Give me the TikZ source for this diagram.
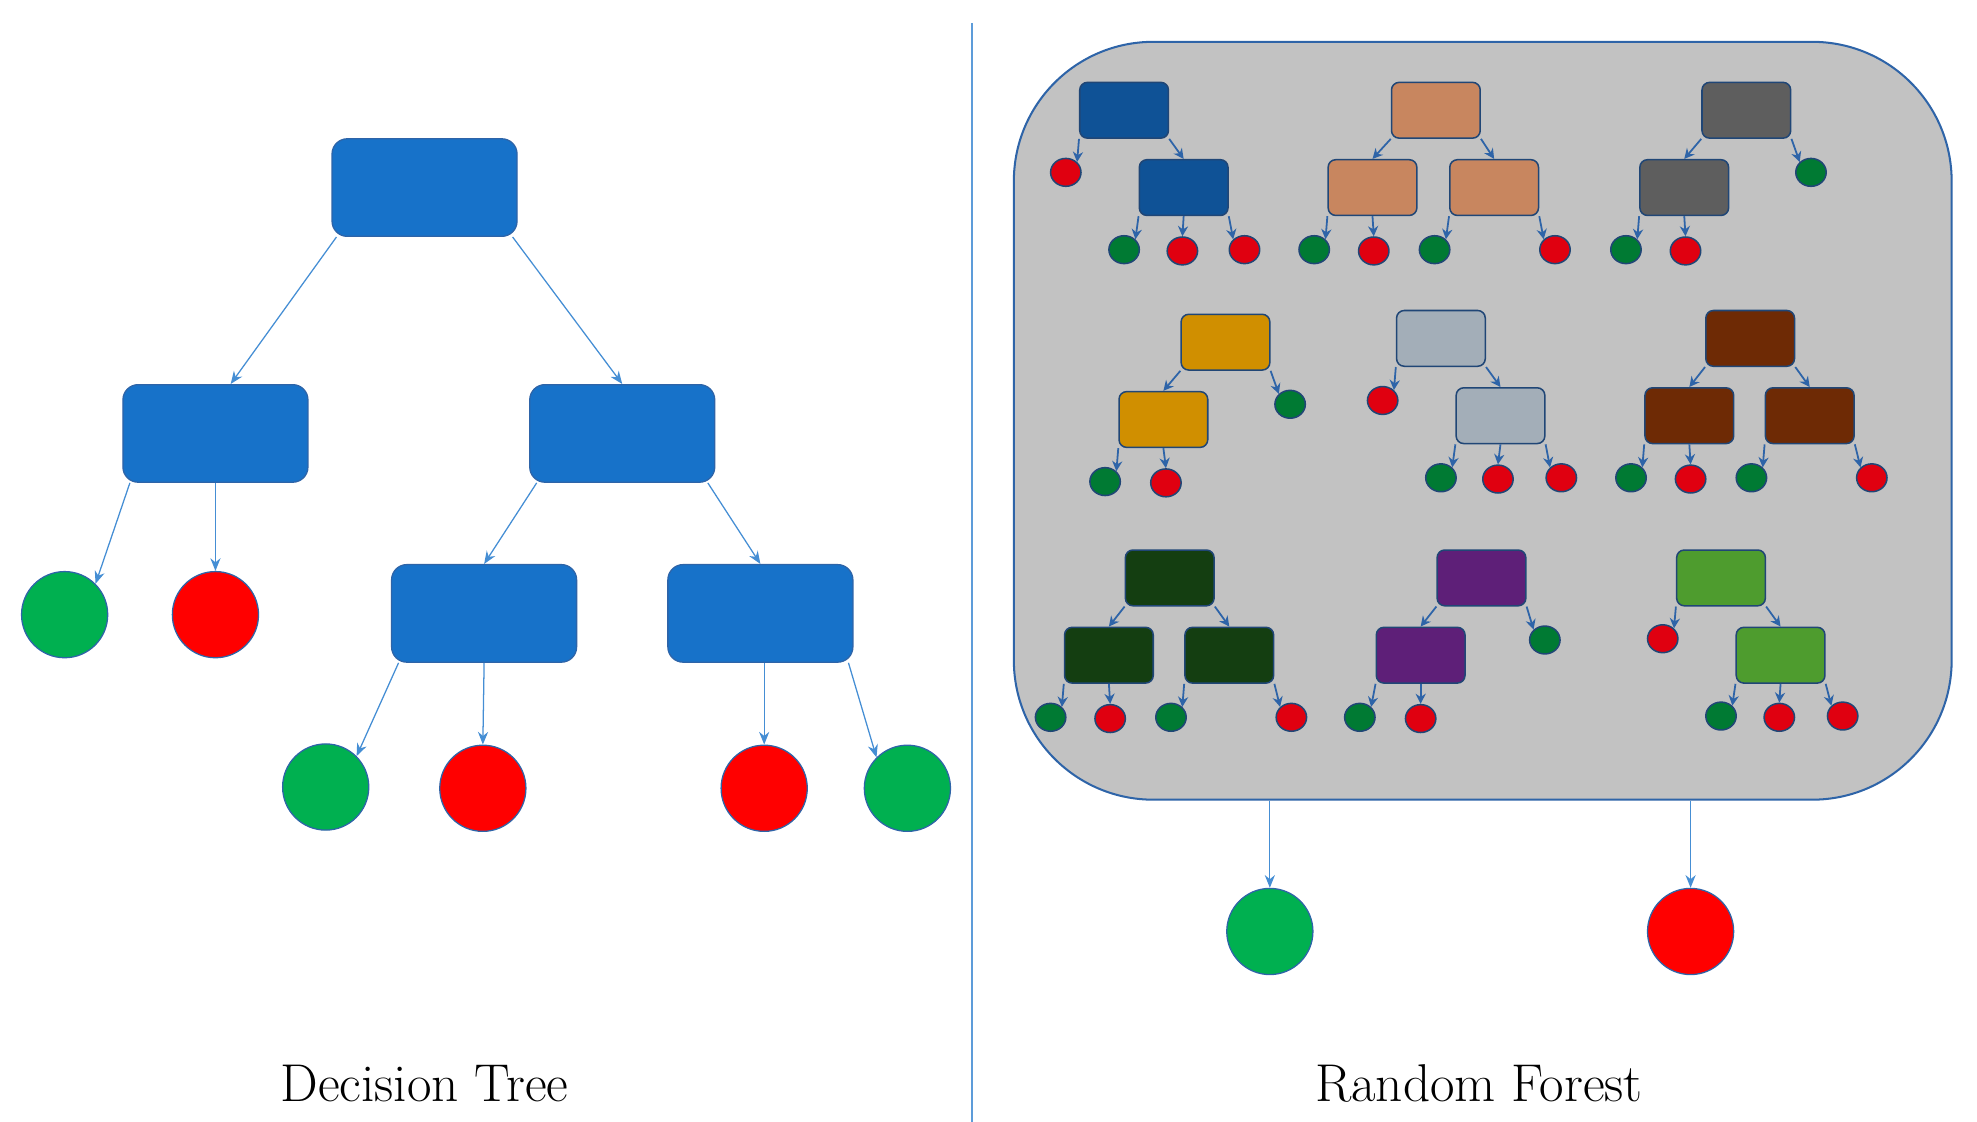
\documentclass[tikz,border=0pt]{standalone}
\usetikzlibrary{arrows.meta,shapes.geometric}
\definecolor{bb}{HTML}{1772C9}
\definecolor{bline}{HTML}{2E64A8}
\definecolor{lg}{HTML}{00B050}
\definecolor{lr}{HTML}{FF0000}
\definecolor{sg}{HTML}{007A33}
\definecolor{sr}{HTML}{E00010}
\definecolor{c1}{HTML}{0F5296}
\definecolor{c2}{HTML}{C8865F}
\definecolor{c3}{HTML}{5E5E5E}
\definecolor{c4}{HTML}{D08F00}
\definecolor{c5}{HTML}{A3AEB8}
\definecolor{c6}{HTML}{6E2A05}
\definecolor{c7}{HTML}{143E11}
\definecolor{c8}{HTML}{5E1F78}
\definecolor{c9}{HTML}{4E9C2E}
\begin{document}
\begin{tikzpicture}[x=0.5pt,y=-0.5pt,
 big/.style={draw=bline,fill=bb,rounded corners=6pt,minimum width=73pt,minimum height=38.5pt,inner sep=0pt,line width=0.5pt},
 bl/.style={circle,draw=bline,fill=#1,minimum size=34pt,inner sep=0pt,line width=0.5pt},
 ba/.style={draw=bb!80,line width=0.5pt,-{Stealth[length=5pt,width=4pt]}},
 sm/.style={draw=bline!70!black,fill=#1,rounded corners=3pt,minimum width=35pt,minimum height=22pt,inner sep=0pt,line width=0.6pt},
 sl/.style={ellipse,draw=bline!70!black,fill=#1,minimum width=12pt,minimum height=11pt,inner sep=0pt,line width=0.6pt},
 sa/.style={draw=bline,line width=0.7pt,-{Stealth[length=4pt,width=4pt]}},
 lab/.style={font=\fontsize{21}{25}\selectfont}]
\useasboundingbox (0,0) rectangle (1560,885);
% left decision tree
\node[big] (r) at (335,148) {};
\node[big] (a) at (170,342) {};
\node[big] (b) at (491,342) {};
\node[big] (c) at (382,484) {};
\node[big] (d) at (600,484) {};
\node[bl=lg] (g1) at (51,485) {};
\node[bl=lr] (r1) at (170,485) {};
\node[bl=lg] (g2) at (257,621) {};
\node[bl=lr] (r2) at (381,622) {};
\node[bl=lr] (r3) at (603,622) {};
\node[bl=lg] (g3) at (716,622) {};
\draw[ba] ([xshift=2]r.south west) -- ([xshift=6]a.north);
\draw[ba] ([xshift=-2]r.south east) -- (b.north);
\draw[ba] ([xshift=3]a.south west) -- (g1.north east);
\draw[ba] (a.south) -- (r1.north);
\draw[ba] ([xshift=3]b.south west) -- (c.north);
\draw[ba] ([xshift=-3]b.south east) -- (d.north);
\draw[ba] ([xshift=3]c.south west) -- (g2.north east);
\draw[ba] (c.south) -- (r2.north);
\draw[ba] (r3.north |- d.south) -- (r3.north);
\draw[ba] ([xshift=-2]d.south east) -- (g3.north west);
% divider
\coordinate (t1) at (767,18); \coordinate (t2) at (767,885);
\draw[bb!70,line width=0.6pt] (t1) -- (t2);
% forest box
\node[draw=bline,fill=black!24,rounded corners=55pt,line width=0.8pt,minimum width=370pt,minimum height=299pt,inner sep=0pt] (box) at (1170,332) {};
\node[bl=lg] (og) at (1002,735) {};
\node[bl=lr] (or) at (1334,735) {};
\draw[ba] (og.north |- box.south) -- (og.north);
\draw[ba] (or.north |- box.south) -- (or.north);
% tree 1
\node[sm=c1] (t1r) at (887,87) {};
\node[sl=sr] (t1a) at (841,136) {};
\node[sm=c1] (t1b) at (934,148) {};
\node[sl=sg] (t1c) at (887,197) {};
\node[sl=sr] (t1d) at (933,198) {};
\node[sl=sr] (t1e) at (982,197) {};
\draw[sa] (t1r.south west) -- (t1a.north east);
\draw[sa] (t1r.south east) -- (t1b.north);
\draw[sa] (t1b.south west) -- (t1c.north east);
\draw[sa] (t1b.south) -- (t1d.north);
\draw[sa] (t1b.south east) -- (t1e.north west);
% tree 2
\node[sm=c2] (t2r) at (1133,87) {};
\node[sm=c2] (t2a) at (1083,148) {};
\node[sm=c2] (t2b) at (1179,148) {};
\node[sl=sg] (t2c) at (1037,197) {};
\node[sl=sr] (t2d) at (1084,198) {};
\node[sl=sg] (t2e) at (1132,197) {};
\node[sl=sr] (t2f) at (1227,197) {};
\draw[sa] (t2r.south west) -- (t2a.north);
\draw[sa] (t2r.south east) -- (t2b.north);
\draw[sa] (t2a.south west) -- (t2c.north east);
\draw[sa] (t2a.south) -- (t2d.north);
\draw[sa] (t2b.south west) -- (t2e.north east);
\draw[sa] (t2b.south east) -- (t2f.north west);
% tree 3
\node[sm=c3] (t3r) at (1378,87) {};
\node[sm=c3] (t3a) at (1329,148) {};
\node[sl=sg] (t3b) at (1429,136) {};
\node[sl=sg] (t3c) at (1283,197) {};
\node[sl=sr] (t3d) at (1330,198) {};
\draw[sa] (t3r.south west) -- (t3a.north);
\draw[sa] (t3r.south east) -- (t3b.north west);
\draw[sa] (t3a.south west) -- (t3c.north east);
\draw[sa] (t3a.south) -- (t3d.north);
% tree 4
\node[sm=c4] (t4r) at (967,270) {};
\node[sm=c4] (t4a) at (918,331) {};
\node[sl=sg] (t4b) at (1018,319) {};
\node[sl=sg] (t4c) at (872,380) {};
\node[sl=sr] (t4d) at (920,381) {};
\draw[sa] (t4r.south west) -- (t4a.north);
\draw[sa] (t4r.south east) -- (t4b.north west);
\draw[sa] (t4a.south west) -- (t4c.north east);
\draw[sa] (t4a.south) -- (t4d.north);
% tree 5
\node[sm=c5] (t5r) at (1137,267) {};
\node[sl=sr] (t5a) at (1091,316) {};
\node[sm=c5] (t5b) at (1184,328) {};
\node[sl=sg] (t5c) at (1137,377) {};
\node[sl=sr] (t5d) at (1182,378) {};
\node[sl=sr] (t5e) at (1232,377) {};
\draw[sa] (t5r.south west) -- (t5a.north east);
\draw[sa] (t5r.south east) -- (t5b.north);
\draw[sa] (t5b.south west) -- (t5c.north east);
\draw[sa] (t5b.south) -- (t5d.north);
\draw[sa] (t5b.south east) -- (t5e.north west);
% tree 6
\node[sm=c6] (t6r) at (1381,267) {};
\node[sm=c6] (t6a) at (1333,328) {};
\node[sm=c6] (t6b) at (1428,328) {};
\node[sl=sg] (t6c) at (1287,377) {};
\node[sl=sr] (t6d) at (1334,378) {};
\node[sl=sg] (t6e) at (1382,377) {};
\node[sl=sr] (t6f) at (1477,377) {};
\draw[sa] (t6r.south west) -- (t6a.north);
\draw[sa] (t6r.south east) -- (t6b.north);
\draw[sa] (t6a.south west) -- (t6c.north east);
\draw[sa] (t6a.south) -- (t6d.north);
\draw[sa] (t6b.south west) -- (t6e.north east);
\draw[sa] (t6b.south east) -- (t6f.north west);
% tree 7
\node[sm=c7] (t7r) at (923,456) {};
\node[sm=c7] (t7a) at (875,517) {};
\node[sm=c7] (t7b) at (970,517) {};
\node[sl=sg] (t7c) at (829,566) {};
\node[sl=sr] (t7d) at (876,567) {};
\node[sl=sg] (t7e) at (924,566) {};
\node[sl=sr] (t7f) at (1019,566) {};
\draw[sa] (t7r.south west) -- (t7a.north);
\draw[sa] (t7r.south east) -- (t7b.north);
\draw[sa] (t7a.south west) -- (t7c.north east);
\draw[sa] (t7a.south) -- (t7d.north);
\draw[sa] (t7b.south west) -- (t7e.north east);
\draw[sa] (t7b.south east) -- (t7f.north west);
% tree 8
\node[sm=c8] (t8r) at (1169,456) {};
\node[sm=c8] (t8a) at (1121,517) {};
\node[sl=sg] (t8b) at (1219,505) {};
\node[sl=sg] (t8c) at (1073,566) {};
\node[sl=sr] (t8d) at (1121,567) {};
\draw[sa] (t8r.south west) -- (t8a.north);
\draw[sa] (t8r.south east) -- (t8b.north west);
\draw[sa] (t8a.south west) -- (t8c.north east);
\draw[sa] (t8a.south) -- (t8d.north);
% tree 9
\node[sm=c9] (t9r) at (1358,456) {};
\node[sl=sr] (t9a) at (1312,504) {};
\node[sm=c9] (t9b) at (1405,517) {};
\node[sl=sg] (t9c) at (1358,565) {};
\node[sl=sr] (t9d) at (1404,566) {};
\node[sl=sr] (t9e) at (1454,565) {};
\draw[sa] (t9r.south west) -- (t9a.north east);
\draw[sa] (t9r.south east) -- (t9b.north);
\draw[sa] (t9b.south west) -- (t9c.north east);
\draw[sa] (t9b.south) -- (t9d.north);
\draw[sa] (t9b.south east) -- (t9e.north west);
% labels
\node[lab] (l1) at (335,855) {Decision Tree};
\node[lab] (l2) at (1167,855) {Random Forest};
\end{tikzpicture}
\end{document}
